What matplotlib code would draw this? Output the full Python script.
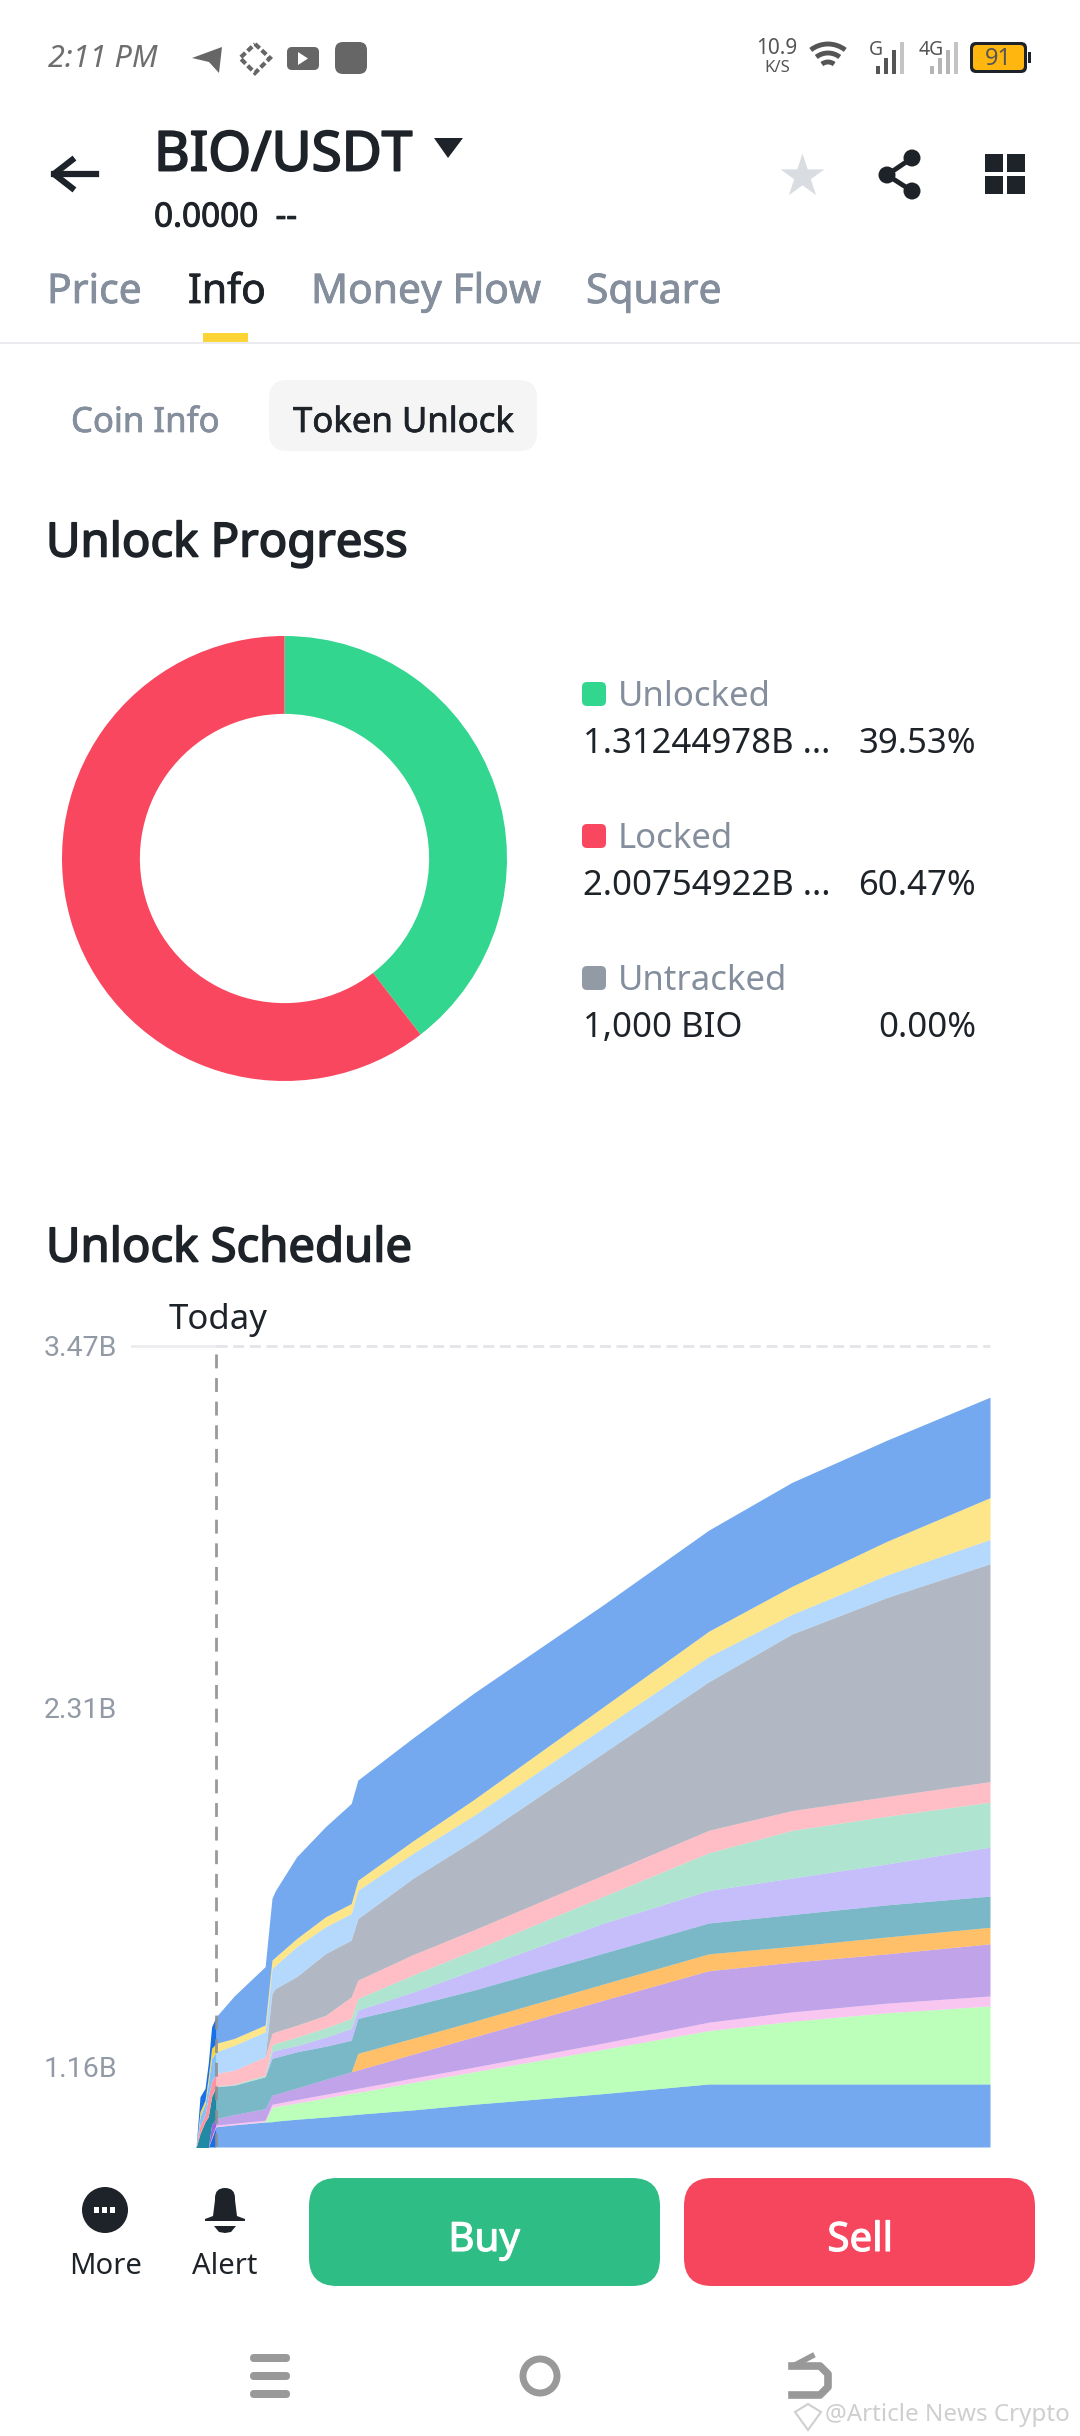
import matplotlib
matplotlib.use('Agg')
import matplotlib.pyplot as plt
import matplotlib.patheffects as pe
from matplotlib.patches import Rectangle, FancyBboxPatch, Circle, Arc, Polygon

plt.rcParams['font.family'] = ['Noto Sans', 'DejaVu Sans']

W, H = 1080, 2436

# Unlock progress
donut_labels = ['Unlocked', 'Locked', 'Untracked']
donut_values = [1.31244978, 2.00754922, 0.000001]
donut_colors = ['#33D68F', '#F8475F', '#929AA5']
donut_amounts = ['1.31244978B ...', '2.00754922B ...', '1,000 BIO']
donut_percents = ['39.53%', '60.47%', '0.00%']

# Unlock schedule, months from today, top edge of each band in billions
months = [-1.55, -1.24, -0.85, -0.6, -0.34, 0, 1.41, 3.81, 4.34, 4.61, 6.25, 8.5, 10.48, 11, 15.3, 20, 30, 38.2, 44.65, 52, 60]
base_top = [.90, .90, .90, .90, .93, .968, .974, .983, .984, .986, .992, .999, 1.006, 1.008, 1.022, 1.040, 1.074, 1.105, 1.105, 1.105, 1.105]
green_top = [.90, .90, .90, .90, .93, .968, .974, .984, 1.030, 1.032, 1.044, 1.060, 1.075, 1.078, 1.110, 1.144, 1.216, 1.276, 1.306, 1.333, 1.355]
lilac_top = [.90, .90, .90, .90, .934, .973, .979, .989, 1.040, 1.042, 1.055, 1.072, 1.087, 1.091, 1.124, 1.159, 1.236, 1.303, 1.336, 1.364, 1.387]
purple_top = [.90, .90, .90, .90, .975, .994, 1.007, 1.026, 1.069, 1.072, 1.092, 1.120, 1.144, 1.150, 1.201, 1.256, 1.373, 1.468, 1.495, 1.522, 1.554]
orange_top = [.90, .90, .90, .90, .975, .994, 1.007, 1.026, 1.069, 1.072, 1.092, 1.120, 1.144, 1.203, 1.252, 1.306, 1.425, 1.522, 1.546, 1.576, 1.607]
teal_top = [.90, .946, .984, 1.0, 1.064, 1.096, 1.101, 1.128, 1.187, 1.19, 1.208, 1.226, 1.245, 1.315, 1.357, 1.406, 1.524, 1.621, 1.648, 1.679, 1.707]
lavender_top = [.90, .946, .984, 1.0, 1.064, 1.096, 1.102, 1.128, 1.208, 1.213, 1.228, 1.255, 1.283, 1.342, 1.40, 1.47, 1.62, 1.725, 1.765, 1.810, 1.864]
mint_top = [.90, .946, .984, 1.0, 1.066, 1.098, 1.104, 1.133, 1.230, 1.235, 1.255, 1.285, 1.315, 1.379, 1.455, 1.534, 1.706, 1.846, 1.918, 1.963, 2.008]
pink_top = [.90, .973, 1.005, 1.064, 1.112, 1.139, 1.149, 1.192, 1.267, 1.272, 1.293, 1.325, 1.384, 1.438, 1.52, 1.599, 1.774, 1.918, 1.981, 2.026, 2.074]
gray_top = [.90, .973, 1.005, 1.064, 1.112, 1.139, 1.149, 1.192, 1.395, 1.411, 1.449, 1.523, 1.566, 1.635, 1.765, 1.886, 2.165, 2.394, 2.547, 2.664, 2.772]
sky_top = [.90, 1.0, 1.042, 1.107, 1.187, 1.208, 1.229, 1.272, 1.475, 1.485, 1.545, 1.609, 1.651, 1.726, 1.845, 1.966, 2.246, 2.475, 2.610, 2.736, 2.850]
yellow_top = [.90, 1.016, 1.053, 1.128, 1.219, 1.235, 1.251, 1.294, 1.502, 1.512, 1.571, 1.641, 1.683, 1.758, 1.885, 2.017, 2.313, 2.556, 2.700, 2.844, 2.984]
total_top = [.90, 1.064, 1.091, 1.171, 1.288, 1.320, 1.387, 1.481, 1.70, 1.725, 1.833, 1.93, 2.004, 2.079, 2.215, 2.358, 2.640, 2.880, 3.033, 3.168, 3.306]

band_tops = [base_top, green_top, lilac_top, purple_top, orange_top, teal_top, lavender_top,
             mint_top, pink_top, gray_top, sky_top, yellow_top, total_top]
band_colors = ['#1770E6', '#8EFF8C', '#F5A0E8', '#9966DC', '#FF9605', '#2189A3', '#A093F8',
               '#7AD5B1', '#FF94A0', '#7F8A9B', '#84C1FA', '#FCD43A', '#1770E6']
y_ticks = [1.16, 2.31, 3.47]
y_floor = 0.903

DARK = '#1E2329'
GRAY = '#848E9C'


def px_axes(left, top, right, bottom):
    return fig.add_axes([left / W, 1 - bottom / H, (right - left) / W, (bottom - top) / H])


fig = plt.figure(figsize=(W / 100, H / 100), dpi=100, facecolor='white')

# page layer in screen pixels
ui = fig.add_axes([0, 0, 1, 1])
ui.set_xlim(0, W)
ui.set_ylim(H, 0)
ui.axis('off')


def label(x, y, s, size, color=DARK, ha='left', stroke=0, **kw):
    # no medium weight installed, a thin stroke of the same colour does the job
    t = ui.text(x, y + 4, s, fontsize=size, color=color, ha=ha, va='center', **kw)
    if stroke:
        t.set_path_effects([pe.withStroke(linewidth=stroke, foreground=color)])


def rounded(x0, y0, x1, y1, r, color):
    ui.add_patch(FancyBboxPatch((x0 + r, y0 + r), x1 - x0 - 2 * r, y1 - y0 - 2 * r,
                                boxstyle='round,pad=%d,rounding_size=%d' % (r, r), fc=color, ec='none'))


# status bar
label(48, 55, '2:11 PM', 22, color='#6E6E6E', style='italic', fontweight='bold')
ui.add_patch(Polygon([[192, 58], [222, 47], [219, 73], [209, 62]], fc='#666666'))
ui.add_patch(Polygon([[255, 44], [270, 58], [255, 73], [240, 58]], fc='none', ec='#666666', lw=3, ls=(0, (1.5, 0.7))))
rounded(287, 47, 319, 70, 5, '#666666')
ui.add_patch(Polygon([[298, 52], [298, 65], [308, 58.5]], fc='white'))
rounded(335, 42, 367, 74, 8, '#666666')
label(777, 45, '10.9', 15, color='#555555', ha='center')
label(777, 64, 'K/S', 12, color='#555555', ha='center')
for r in [28, 19, 10]:
    ui.add_patch(Arc((828, 72), r * 2, r * 2, theta1=232, theta2=308, ec='#555555', lw=3.5))
label(876, 46, 'G', 14, color='#555555', ha='center')
label(931, 46, '4G', 14, color='#555555', ha='center')
for x0, colors in [(876, ['#555555', '#555555', '#555555', '#C4C4C4']), (930, ['#B5B5B5', '#B5B5B5', '#B5B5B5', '#C4C4C4'])]:
    for i, c in enumerate(colors):
        ui.add_patch(Rectangle((x0 + i * 8, 74 - 8 - i * 8), 4, 8 + i * 8, fc=c))
rounded(970, 42, 1027, 73, 6, DARK)
rounded(973, 45, 1024, 70, 4, '#FFB70F')
ui.add_patch(Rectangle((1028, 52), 3, 11, fc=DARK))
label(998, 55, '91', 17, color='#555555', ha='center')

# header
ui.plot([54, 96], [174, 174], color=DARK, lw=4.5)
ui.plot([72, 54, 72], [160, 174, 188], color=DARK, lw=4.5)
label(154, 152, 'BIO/USDT', 39.5, stroke=1.4)
ui.add_patch(Polygon([[434, 138], [463, 138], [448, 158]], fc=DARK))
label(154, 214, '0.0000  --', 24, stroke=0.7)
ui.scatter([802], [176], s=1100, marker='*', color='#D9DCE1', linewidths=0)
for c in [(887, 175), (912, 158), (912, 191)]:
    ui.add_patch(Circle(c, 8.5, fc=DARK))
ui.plot([912, 887, 912], [158, 175, 191], color=DARK, lw=3.5)
for x0, y0 in [(985, 154), (1007, 154), (985, 176), (1007, 176)]:
    ui.add_patch(Rectangle((x0, y0), 18, 18, fc=DARK))

# tabs
label(47, 289, 'Price', 29.4, color=GRAY, stroke=0.6)
label(188, 289, 'Info', 29.4, stroke=0.6)
label(311, 289, 'Money Flow', 29.4, color=GRAY, stroke=0.6)
label(586, 289, 'Square', 29.4, color=GRAY, stroke=0.6)
ui.add_patch(Rectangle((203, 333), 45, 9, fc='#FCD535'))
ui.plot([0, W], [343, 343], color='#EAECEF', lw=1.5)
rounded(269, 380, 537, 451, 18, '#F5F5F5')
label(71, 419, 'Coin Info', 25, color=GRAY, stroke=0.5)
label(293, 419, 'Token Unlock', 25, stroke=0.5)

label(46, 540, 'Unlock Progress', 34, stroke=1.2)
label(46, 1245, 'Unlock Schedule', 34, stroke=1.2)

# donut
donut = px_axes(62, 636, 507, 1081)
donut.pie(donut_values, colors=donut_colors, startangle=90, counterclock=False, radius=1,
          wedgeprops=dict(width=0.35, edgecolor='none'))
donut.set_xlim(-1, 1)
donut.set_ylim(-1, 1)

for i, y in enumerate([694, 836, 978]):
    rounded(582, y - 12, 606, y + 12, 5, donut_colors[i])
    label(618, y - 1, donut_labels[i], 25, color=GRAY)
    label(583, y + 46, donut_amounts[i], 25)
    label(976, y + 46, donut_percents[i], 25, ha='right')

# schedule chart
ax = px_axes(132, 1346, 990, 2147)
ax.patch.set_alpha(0)
for i, top in enumerate(band_tops):
    lower = band_tops[i - 1] if i else [y_floor] * len(months)
    ax.fill_between(months[:6], lower[:6], top[:6], color=band_colors[i], lw=0)
    ax.fill_between(months[5:], lower[5:], top[5:], color=band_colors[i], alpha=0.6, lw=0)
ax.set_xlim(-6.51, 60)
ax.set_ylim(y_floor, 3.47)
ax.set_yticks(y_ticks)
ax.set_yticklabels(['%.2fB' % t for t in y_ticks], fontsize=20.5, color='#929AA5', family='Roboto')
ax.set_xticks([])
ax.tick_params(axis='y', length=0, pad=11)
for s in ax.spines.values():
    s.set_visible(False)
ax.plot([-6.51, 0], [3.47, 3.47], color='#EAECEF', lw=2, clip_on=False)
ax.plot([0, 60], [3.47, 3.47], color='#E3E5E8', lw=2, ls=(0, (4, 2)), clip_on=False)
ax.plot([0, 0], [y_floor, 3.47], color='#8F8F8F', lw=2, ls=(0, (5, 3.5)), alpha=0.9)
label(169, 1316, 'Today', 25)

# bottom bar
ui.add_patch(Circle((105, 2210), 23, fc=DARK))
for x0 in [94, 102, 110]:
    ui.add_patch(Rectangle((x0, 2207), 5, 6, fc='white'))
ui.add_patch(FancyBboxPatch((215, 2188), 20, 22, boxstyle='round,pad=0,rounding_size=10', fc=DARK, ec='none'))
ui.add_patch(Polygon([[215, 2200], [235, 2200], [237, 2216], [245, 2219], [245, 2221], [205, 2221], [205, 2219], [213, 2216]], fc=DARK))
ui.add_patch(Polygon([[214, 2226], [236, 2226], [231, 2232], [225, 2233], [219, 2232]], fc=DARK))
label(106, 2262, 'More', 21, ha='center')
label(225, 2262, 'Alert', 21, ha='center')
rounded(309, 2178, 660, 2286, 28, '#2EBD85')
rounded(684, 2178, 1035, 2286, 28, '#F6465D')
label(484, 2237, 'Buy', 29, color='white', ha='center', stroke=0.8)
label(860, 2237, 'Sell', 29, color='white', ha='center', stroke=0.8)

# nav bar
for y in [2358, 2376, 2394]:
    rounded(250, y - 4, 290, y + 4, 4, '#999999')
ui.add_patch(Circle((540, 2376), 17, fc='none', ec='#999999', lw=5))
ui.plot([792, 820, 828, 828, 820, 792], [2366, 2366, 2374, 2387, 2395, 2395], color='#999999', lw=5.5)
ui.plot([812, 793], [2356, 2366], color='#999999', lw=4)

# watermark
label(825, 2411, '@Article News Crypto', 17.4, color='#CFCFCF')
ui.add_patch(Polygon([[795, 2412], [808, 2404], [821, 2412], [808, 2430]], fc='none', ec='#CFCFCF', lw=1.5))

fig.savefig('out.png', dpi=100)
